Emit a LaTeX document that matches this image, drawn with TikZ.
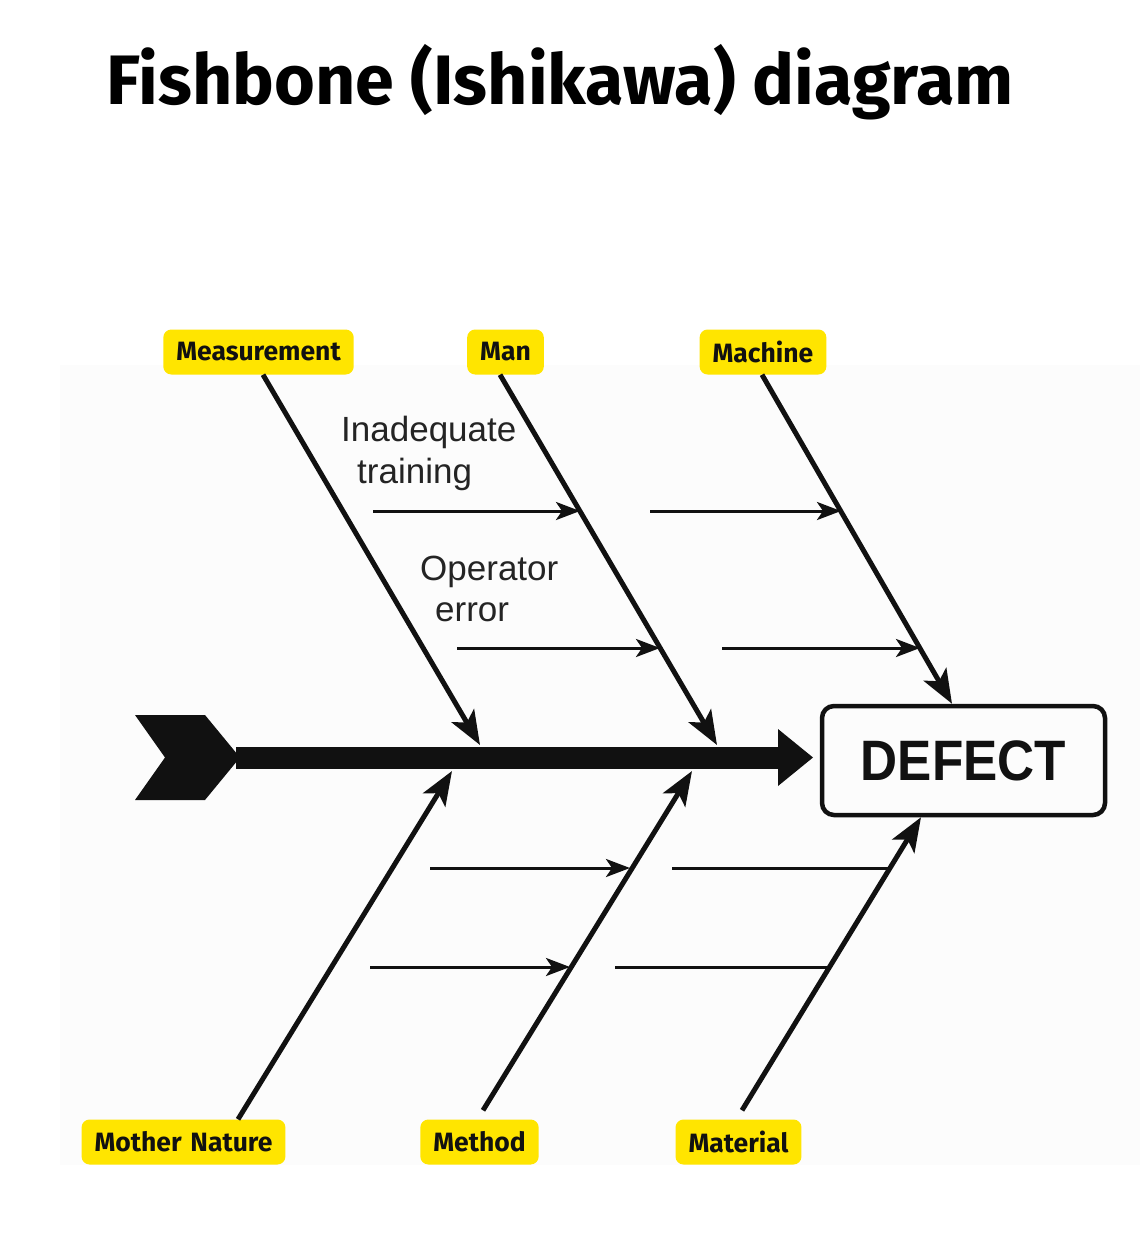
\documentclass[tikz,border=0pt]{standalone}
\usepackage{fontspec}
\setmainfont{Liberation Sans}
\newfontfamily\titlefont{Fira Sans}
\usetikzlibrary{arrows.meta}
\definecolor{hiyellow}{HTML}{FFE500}
\definecolor{ink}{HTML}{111111}
\definecolor{paper}{HTML}{FCFCFC}
\begin{document}
\begin{tikzpicture}[x=1pt,y=-1pt,
  lab/.style={fill=hiyellow, rounded corners=8pt, minimum height=45pt, inner xsep=13pt, inner ysep=0pt,
    font=\titlefont\bfseries\fontsize{26.5}{28}\selectfont, text=ink},
  bone/.style={draw=ink, line width=5pt, -{Stealth[length=34pt,width=26pt,inset=8pt]}},
  sub/.style={draw=ink, line width=3pt, -{Stealth[length=24pt,width=18pt,inset=6pt]}},
  subplain/.style={draw=ink, line width=3pt},
  cause/.style={font=\fontsize{35}{40}\selectfont, text=ink!92, anchor=base west, inner sep=0pt}
]
\useasboundingbox (0,0) rectangle (1140,1259);
\fill[white] (0,0) rectangle (1140,1259);
\fill[paper] (60,365) rectangle (1140,1165);

% title
\node[font=\titlefont\bfseries\fontsize{70}{80}\selectfont, anchor=base, inner sep=0pt] (title) at (560,104) {Fishbone (Ishikawa) diagram};

% category labels
\node[lab] (meas) at (258.5,352) {Measurement};
\node[lab] (man) at (505.5,352) {Man};
\node[lab] (mach) at (763,352) {Machine};
\node[lab] (mn) at (183.5,1142) {Mother\,\,Nature};
\node[lab] (meth) at (479.5,1142) {Method};
\node[lab] (mat) at (738.5,1142) {Material};

% effect box
\node[draw=ink, line width=4.5pt, rounded corners=12pt, minimum width=283pt, minimum height=109pt,
  font=\bfseries\fontsize{57}{60}\selectfont, text=ink, inner sep=0pt] (defect) at (963.5,760.5) {\scalebox{0.9}[1]{DEFECT}};

% spine
\fill[ink] (135,715) -- (205,715) -- (240,757.5) -- (205,800) -- (135,800) -- (165,757.5) -- cycle;
\fill[ink] (236,746.5) rectangle (782,768.5);
\fill[ink] (778,729) -- (813,757.5) -- (778,786) -- cycle;
\coordinate (spineend) at (813,757.5);

% bone tips on the spine
\coordinate (measTip) at (480,745);
\coordinate (manTip) at (717,745);
\coordinate (mnTip) at (452,771);
\coordinate (methTip) at (692,771);

% bones
\draw[bone] ([xshift=4.5pt]meas.south) -- (measTip);
\draw[bone] ([xshift=-5.5pt]man.south) -- (manTip);
\draw[bone] ([xshift=-1pt]mach.south) -- (defect.north -| 952,0);
\draw[bone] ([xshift=54.5pt]mn.north) -- (mnTip);
\draw[bone] ([xshift=3.5pt,yshift=9pt]meth.north) -- (methTip);
\draw[bone] ([xshift=3.5pt,yshift=9pt]mat.north) -- (defect.south -| 921,0);

% sub-cause arrows, top
\coordinate (a1) at (373,511); \coordinate (a1e) at (580,511);
\coordinate (a2) at (650,511); \coordinate (a2e) at (841,511);
\coordinate (a3) at (457,648); \coordinate (a3e) at (660,648);
\coordinate (a4) at (722,648); \coordinate (a4e) at (920,648);
\draw[sub] (a1) -- (a1e);
\draw[sub] (a2) -- (a2e);
\draw[sub] (a3) -- (a3e);
\draw[sub] (a4) -- (a4e);

% sub-cause arrows, bottom
\coordinate (b1) at (430,868); \coordinate (b1e) at (630,868);
\coordinate (b2) at (672,868); \coordinate (b2e) at (891,868);
\coordinate (b3) at (370,967); \coordinate (b3e) at (570,967);
\coordinate (b4) at (615,967); \coordinate (b4e) at (830,967);
\draw[sub] (b1) -- (b1e);
\draw[subplain] (b2) -- (b2e);
\draw[sub] (b3) -- (b3e);
\draw[subplain] (b4) -- (b4e);

% cause texts
\node[cause] (c1a) at (341,441) {Inadequate};
\node[cause] (c1b) at (357,483) {training};
\node[cause] (c2a) at (420,580) {Operator};
\node[cause] (c2b) at (435,621) {error};
\end{tikzpicture}
\end{document}
